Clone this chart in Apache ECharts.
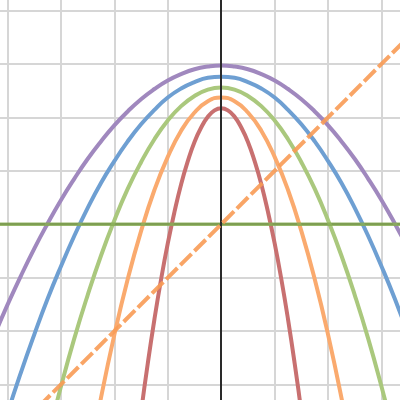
<!DOCTYPE html>
<html>
<head>
<meta charset="utf-8">
<script src="https://cdn.jsdelivr.net/npm/echarts@6/dist/echarts.min.js"></script>
<style>
html,body{margin:0;padding:0;background:#fff;width:400px;height:400px;overflow:hidden;position:relative}
#c{position:absolute;left:-46px;top:-43px;width:481px;height:481px}
</style>
</head>
<body>
<div id="c"></div>
<script>
// values (grid unit = 1)
const purpleX = [-4.25,-4,-3.75,-3.5,-3.25,-3,-2.75,-2.5,-2.25,-2,-1.75,-1.5,-1.25,-1,-0.75,-0.5,-0.25,0,0.25,0.5,0.75,1,1.25,1.5,1.75,2,2.25,2.5,2.75,3,3.25,3.5];
const purpleY = [-2.09,-1.51,-0.97,-0.46,0.01,0.45,0.85,1.22,1.55,1.85,2.11,2.34,2.53,2.69,2.81,2.90,2.95,2.97,2.95,2.90,2.81,2.69,2.53,2.34,2.11,1.85,1.55,1.22,0.85,0.45,0.01,-0.46];
const blueX = [-4.25,-4,-3.75,-3.5,-3.25,-3,-2.75,-2.5,-2.25,-2,-1.75,-1.5,-1.25,-1,-0.75,-0.5,-0.25,0,0.25,0.5,0.75,1,1.25,1.5,1.75,2,2.25,2.5,2.75,3,3.25,3.5];
const blueY = [-4.36,-3.54,-2.78,-2.07,-1.40,-0.79,-0.22,0.30,0.77,1.18,1.55,1.87,2.14,2.37,2.54,2.66,2.74,2.76,2.74,2.66,2.54,2.37,2.14,1.87,1.55,1.18,0.77,0.30,-0.22,-0.79,-1.40,-2.07];
const greenX = [-3.5,-3.25,-3,-2.75,-2.5,-2.25,-2,-1.75,-1.5,-1.25,-1,-0.75,-0.5,-0.25,0,0.25,0.5,0.75,1,1.25,1.5,1.75,2,2.25,2.5,2.75,3,3.25];
const greenY = [-5.06,-4.01,-3.04,-2.14,-1.33,-0.59,0.07,0.66,1.16,1.59,1.94,2.21,2.40,2.52,2.56,2.52,2.40,2.21,1.94,1.59,1.16,0.66,0.07,-0.59,-1.33,-2.14,-3.04,-4.01];
const orangeX = [-2.5,-2.25,-2,-1.75,-1.5,-1.25,-1,-0.75,-0.5,-0.25,0,0.25,0.5,0.75,1,1.25,1.5,1.75,2,2.25,2.5];
const orangeY = [-4.57,-3.25,-2.07,-1.03,-0.13,0.64,1.26,1.75,2.09,2.30,2.37,2.30,2.09,1.75,1.26,0.64,-0.13,-1.03,-2.07,-3.25,-4.57];
const redX = [-1.625,-1.5,-1.375,-1.25,-1.125,-1,-0.875,-0.75,-0.625,-0.5,-0.375,-0.25,-0.125,0,0.125,0.25,0.375,0.5,0.625,0.75,0.875,1,1.125,1.25,1.375,1.5,1.625];
const redY = [-4.51,-3.52,-2.61,-1.78,-1.03,-0.36,0.23,0.75,1.18,1.54,1.81,2.01,2.13,2.17,2.13,2.01,1.81,1.54,1.18,0.75,0.23,-0.36,-1.03,-1.78,-2.61,-3.52,-4.51];
const levelX = [-5, 4];
const levelY = [0, 0];
const identityX = [-5, 4];
const identityY = [-5, 4];

const pairs = (xs, ys) => xs.map((x, i) => [x, ys[i]]);

const chart = echarts.init(document.getElementById('c'));
const curve = (data, color, z) => ({
  type: 'line', data, smooth: true, showSymbol: false, symbol: 'none', z,
  lineStyle: { color, width: 4 }, clip: true
});
chart.setOption({
  animation: false,
  backgroundColor: '#ffffff',
  grid: { left: 0, right: 0, top: 0, bottom: 0, containLabel: false },
  xAxis: {
    type: 'value', min: -5, max: 4, interval: 1,
    axisLine: { show: true, onZero: true, lineStyle: { color: '#2a2a2a', width: 1.5 } },
    axisTick: { show: false }, axisLabel: { show: false },
    splitLine: { show: true, lineStyle: { color: '#d6d6d6', width: 2 } }
  },
  yAxis: [{
    type: 'value', min: -4, max: 5, interval: 1,
    axisLine: { show: false, onZero: false }, axisTick: { show: false }, axisLabel: { show: false },
    splitLine: { show: true, lineStyle: { color: '#d6d6d6', width: 2 } }
  }, {
    type: 'value', min: -4, max: 5, interval: 1, z: 10,
    axisLine: { show: true, onZero: true, lineStyle: { color: '#2a2a2a', width: 2 } },
    axisTick: { show: false }, axisLabel: { show: false }, splitLine: { show: false }
  }],
  series: [
    curve(pairs(purpleX, purpleY), '#a088be', 2),
    curve(pairs(blueX, blueY), '#6e9fd2', 3),
    curve(pairs(greenX, greenY), '#aac87d', 4),
    curve(pairs(orangeX, orangeY), '#faaa6e', 5),
    curve(pairs(redX, redY), '#c87070', 6),
    { type: 'line', data: pairs(levelX, levelY), showSymbol: false, symbol: 'none', z: 7,
      lineStyle: { color: '#86ab52', width: 3.5, opacity: 0.85 } },
    { type: 'line', data: pairs(identityX, identityY), showSymbol: false, symbol: 'none', z: 12,
      lineStyle: { color: '#f89b55', width: 4, type: [16, 4], opacity: 0.9 } }
  ]
});
</script>
</body>
</html>
